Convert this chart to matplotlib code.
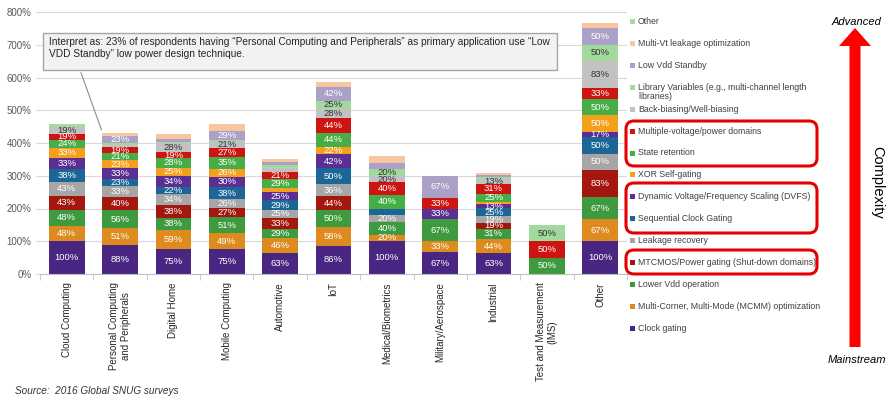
import matplotlib
matplotlib.use("Agg")
import matplotlib.pyplot as plt
import numpy as np
from matplotlib.patches import FancyArrow, FancyBboxPatch, Rectangle

plt.rcParams['font.family'] = ['Liberation Sans', 'DejaVu Sans']

categories = ["Cloud Computing", "Personal Computing\nand Peripherals", "Digital Home",
              "Mobile Computing", "Automotive", "IoT", "Medical/Biometrics",
              "Military/Aerospace", "Industrial", "Test and Measurement\n(IMS)", "Other"]

# stacked from the bottom up (values in %)
clock_gating = [100, 88, 75, 75, 63, 86, 100, 67, 63, 0, 100]
mcmm = [48, 51, 59, 49, 46, 58, 20, 33, 44, 0, 67]
lower_vdd = [48, 56, 38, 51, 29, 50, 40, 67, 31, 50, 67]
mtcmos = [43, 40, 38, 27, 33, 44, 0, 0, 19, 0, 83]
leakage = [43, 33, 34, 26, 25, 36, 20, 0, 19, 0, 50]
seq_clock = [38, 23, 22, 38, 29, 50, 20, 0, 25, 0, 50]
dvfs = [33, 33, 34, 30, 25, 42, 0, 33, 13, 0, 17]
xor_gating = [33, 23, 25, 26, 12, 22, 0, 0, 6, 0, 50]
state_ret = [24, 21, 28, 35, 29, 44, 40, 0, 25, 0, 50]
multi_voltage = [19, 19, 19, 27, 21, 44, 40, 33, 31, 50, 33]
back_bias = [19, 6, 28, 21, 11, 28, 20, 0, 13, 0, 83]
library_var = [5, 6, 3, 4, 10, 25, 20, 0, 6, 50, 50]
low_vdd_stby = [0, 23, 9, 29, 10, 42, 20, 67, 6, 0, 50]
multi_vt = [0, 10, 16, 20, 8, 14, 20, 0, 6, 0, 17]
other = [5, 0, 0, 0, 0, 0, 0, 0, 0, 0, 0]

series_names = ["Clock gating", "Multi-Corner, Multi-Mode (MCMM) optimization",
                "Lower Vdd operation", "MTCMOS/Power gating (Shut-down domains)",
                "Leakage recovery", "Sequential Clock Gating",
                "Dynamic Voltage/Frequency Scaling (DVFS)", "XOR Self-gating",
                "State retention", "Multiple-voltage/power domains",
                "Back-biasing/Well-biasing",
                "Library Variables (e.g., multi-channel length\nlibraries)",
                "Low Vdd Standby", "Multi-Vt leakage optimization", "Other"]
series_values = [clock_gating, mcmm, lower_vdd, mtcmos, leakage, seq_clock, dvfs,
                 xor_gating, state_ret, multi_voltage, back_bias, library_var,
                 low_vdd_stby, multi_vt, other]
colors = ["#4A2683", "#DD8A1F", "#3E9A3E", "#A3170F", "#A6A6A6", "#1C6697",
          "#5A2E92", "#F5A01C", "#47AD45", "#CE1410", "#C2C2C2", "#A2D99C",
          "#ABA1C6", "#F8C5A1", "#A9DAA3"]
label_colors = ["white"] * 10 + ["#333333", "#333333", "white", "white", "white"]
show_labels = [True] * 13 + [False, False]
# segments the original leaves without a value label: (series, category)
unlabeled = {(5, 6), (12, 6)}

fig = plt.figure(figsize=(8.89, 4), dpi=100)
ax = fig.add_axes([40 / 889, 126 / 400, 587 / 889, 262 / 400])

x = np.arange(len(categories))
bottom = np.zeros(len(categories))
for si, (vals, col) in enumerate(zip(series_values, colors)):
    vals = np.array(vals, dtype=float)
    ax.bar(x, vals, bottom=bottom, width=0.67, color=col, edgecolor="none", zorder=2)
    if show_labels[si]:
        for ci, v in enumerate(vals):
            if v >= 13 and (si, ci) not in unlabeled:
                ax.text(x[ci], bottom[ci] + v / 2, f"{int(v)}%", ha="center", va="center",
                        fontsize=6.8, color=label_colors[si], zorder=3)
    bottom += vals

ax.set_xlim(-0.5, len(categories) - 0.5)
ax.set_ylim(0, 800)
ax.set_yticks(np.arange(0, 801, 100))
ax.set_yticklabels([f"{v}%" for v in range(0, 801, 100)], fontsize=7, color="#595959")
ax.yaxis.grid(True, color="#D9D9D9", lw=0.8, zorder=0)
ax.set_axisbelow(True)
ax.tick_params(axis="y", length=3, color="#D9D9D9", pad=3)
ax.set_xticks(x)
ax.set_xticklabels(categories, rotation=90, fontsize=7, color="#262626", va="top", ha="center")
ax.set_xticks(np.arange(-0.5, len(categories), 1), minor=True)
ax.tick_params(axis="x", which="major", length=0, pad=6)
ax.tick_params(axis="x", which="minor", length=4, color="#BFBFBF")
for s in ["top", "right", "left"]:
    ax.spines[s].set_visible(False)
ax.spines["bottom"].set_color("#BFBFBF")

# interpretation box and pointer
ax.annotate("", xy=(0.67, 432), xytext=(80, 330), textcoords="figure pixels",
            arrowprops=dict(arrowstyle="-", color="#8C8C8C", lw=0.8), zorder=4)

ov = fig.add_axes([0, 0, 1, 1], zorder=5)
ov.set_xlim(0, 889)
ov.set_ylim(400, 0)
ov.axis("off")
ov.patch.set_alpha(0)

ov.add_patch(Rectangle((43, 33), 514, 37, fc="#F2F2F2", ec="#A6A6A6", lw=1))
ov.text(49, 37, "Interpret as: 23% of respondents having \u201cPersonal Computing and Peripherals\u201d "
        "as primary application use \u201cLow\nVDD Standby\u201d low power design technique.",
        fontsize=7.25, color="#262626", va="top", ha="left", linespacing=1.3)

# legend (top entry first)
for i, si in enumerate(range(len(series_names) - 1, -1, -1)):
    yy = 21.7 + i * 21.9
    ov.add_patch(Rectangle((630, yy - 2.5), 5, 5, fc=colors[si], ec="none"))
    ov.text(638, yy - 4.6, series_names[si], fontsize=6.3, color="#404040",
            va="top", ha="left", linespacing=1.05)

# red highlight boxes
for y0, y1 in [(121, 166), (183, 233), (250, 274)]:
    ov.add_patch(FancyBboxPatch((626, y0), 191, y1 - y0,
                                boxstyle="round,pad=0,rounding_size=8",
                                fill=False, ec="#E50000", lw=2.2))

# complexity arrow
ov.add_patch(FancyArrow(855, 347, 0, -319, width=11, head_width=32, head_length=18,
                        length_includes_head=True, color="#FF0000", lw=0))
ov.text(856, 22, "Advanced", fontsize=8, style="italic", ha="center", va="center", color="black")
ov.text(857, 360, "Mainstream", fontsize=8, style="italic", ha="center", va="center", color="black")
ov.text(877, 182, "Complexity", fontsize=10.5, rotation=270, ha="center", va="center", color="black")

ov.text(15, 391, "Source:  2016 Global SNUG surveys", fontsize=7.2, style="italic",
        ha="left", va="center", color="#333333")

fig.savefig("out.png", dpi=100)
